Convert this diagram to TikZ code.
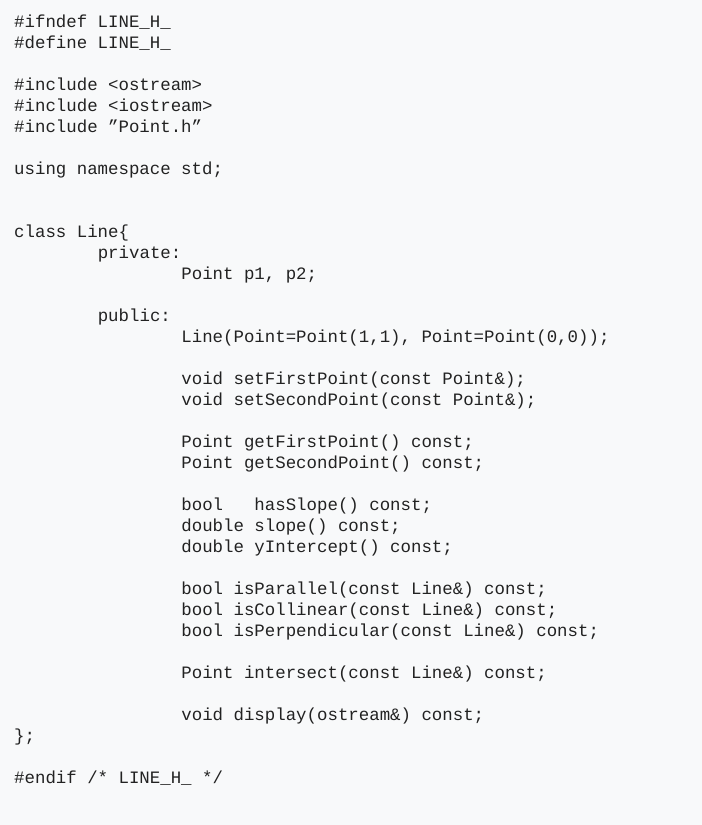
\documentclass[tikz,border=0pt]{standalone}
\usepackage{fontspec}
\setmainfont{Liberation Mono}
\definecolor{bgc}{HTML}{F8F9FA}
\definecolor{txc}{HTML}{222222}
\begin{document}
\begin{tikzpicture}[x=1bp,y=1bp,
  code/.style={anchor=west,inner sep=0pt,text=txc,font=\fontsize{17.4bp}{20bp}\selectfont}]
\fill[bgc] (0,0) rectangle (702,825);
\useasboundingbox (0,0) rectangle (702,825);
\def\L#1#2#3#4{\node[code] (#1) at ({14+#2*10.45},{822-21*#3}) {\strut #4};}
\L{a1}{0}{1}{\#ifndef LINE\_H\_}
\L{a2}{0}{2}{\#define LINE\_H\_}
\L{a4}{0}{4}{\#include <ostream>}
\L{a5}{0}{5}{\#include <iostream>}
\L{a6}{0}{6}{\#include \symbol{34}Point.h\symbol{34}}
\L{a8}{0}{8}{using namespace std;}
\L{a11}{0}{11}{class Line\{}
\L{a12}{8}{12}{private:}
\L{a13}{16}{13}{Point p1, p2;}
\L{a15}{8}{15}{public:}
\L{a16}{16}{16}{Line(Point=Point(1,1), Point=Point(0,0));}
\L{a18}{16}{18}{void setFirstPoint(const Point\&);}
\L{a19}{16}{19}{void setSecondPoint(const Point\&);}
\L{a21}{16}{21}{Point getFirstPoint() const;}
\L{a22}{16}{22}{Point getSecondPoint() const;}
\L{a24}{16}{24}{bool\ \ \ hasSlope() const;}
\L{a25}{16}{25}{double slope() const;}
\L{a26}{16}{26}{double yIntercept() const;}
\L{a28}{16}{28}{bool isParallel(const Line\&) const;}
\L{a29}{16}{29}{bool isCollinear(const Line\&) const;}
\L{a30}{16}{30}{bool isPerpendicular(const Line\&) const;}
\L{a32}{16}{32}{Point intersect(const Line\&) const;}
\L{a34}{16}{34}{void display(ostream\&) const;}
\L{a35}{0}{35}{\};}
\L{a37}{0}{37}{\#endif /* LINE\_H\_ */}
\end{tikzpicture}
\end{document}
